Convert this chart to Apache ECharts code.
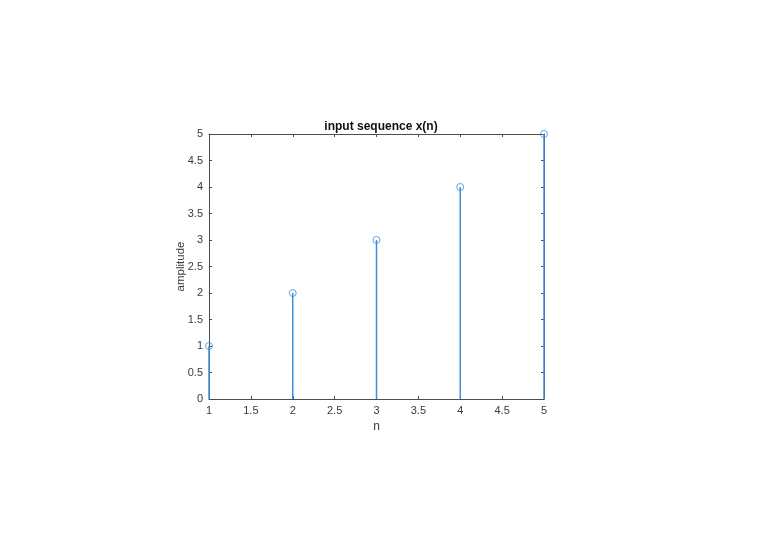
<!DOCTYPE html>
<html><head><meta charset="utf-8">
<script src="https://cdn.jsdelivr.net/npm/echarts@6/dist/echarts.min.js"></script>
<style>html,body{margin:0;padding:0;background:#fff}#c{width:768px;height:543px}</style>
</head><body><div id="c"></div>
<script>
const nValues = [1, 2, 3, 4, 5];
const amplitudes = [1, 2, 3, 4, 5];
const xTicks = [1, 1.5, 2, 2.5, 3, 3.5, 4, 4.5, 5];
const yTicks = [0, 0.5, 1, 1.5, 2, 2.5, 3, 3.5, 4, 4.5, 5];

const pts = nValues.map((n, i) => [n, amplitudes[i]]);
const axisCol = '#4d4d4d';
const stemCol = '#3d8fd9';
const font = 'Liberation Sans, Arial, sans-serif';

const chart = echarts.init(document.getElementById('c'));
function mkAxis(pos, showLabel, name, nameGap, extra) {
  return Object.assign({
    type: 'value', position: pos, min: extra.min, max: extra.max, interval: 0.5,
    axisLine: {show: true, onZero: false, lineStyle: {color: axisCol, width: 1}},
    axisTick: {show: true, inside: true, length: 3, lineStyle: {color: axisCol}},
    splitLine: {show: false},
    axisLabel: {show: showLabel, color: '#3a3a3a', fontSize: 11, fontFamily: font, margin: 6,
      formatter: v => String(v)},
    name: name, nameLocation: 'middle', nameGap: nameGap, nameMoveOverlap: false,
    nameTextStyle: {color: '#3a3a3a', fontSize: 12, fontFamily: font}
  }, extra.o || {});
}
chart.setOption({
  animation: false,
  title: {text: 'input sequence x(n)', left: 376, top: 116, textAlign: 'center',
    textStyle: {fontSize: 12, fontWeight: 'bold', color: '#111', fontFamily: font}},
  grid: {left: 209, top: 134, width: 335, height: 265},
  xAxis: [
    mkAxis('bottom', true, 'n', 22, {min: 1, max: 5}),
    mkAxis('top', false, '', 0, {min: 1, max: 5})
  ],
  yAxis: [
    mkAxis('left', true, 'amplitude', 22, {min: 0, max: 5, o: {nameTextStyle: {color: '#3a3a3a', fontSize: 11.5, fontFamily: font}}}),
    mkAxis('right', false, '', 0, {min: 0, max: 5})
  ],
  series: [
    {
      type: 'custom', xAxisIndex: 0, yAxisIndex: 0, data: pts, clip: false,
      renderItem: function (params, api) {
        const top = api.coord([api.value(0), api.value(1)]);
        const base = api.coord([api.value(0), 0]);
        return {type: 'line', shape: {x1: top[0], y1: top[1], x2: base[0], y2: base[1]},
          style: {stroke: stemCol, lineWidth: 1.5}};
      }
    },
    {
      type: 'scatter', xAxisIndex: 0, yAxisIndex: 0, data: pts, symbol: 'circle',
      symbolSize: 7, clip: false,
      itemStyle: {color: 'rgba(255,255,255,0)', borderColor: stemCol, borderWidth: 1}
    }
  ]
});
</script></body></html>
